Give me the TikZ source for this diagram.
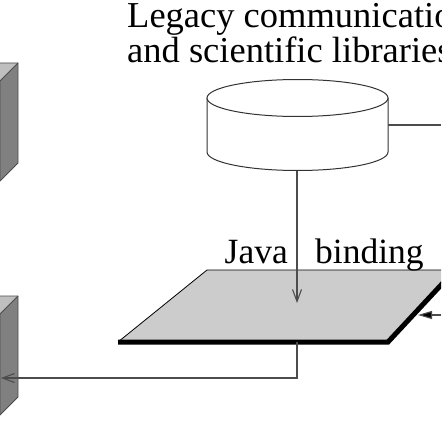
\documentclass[tikz,border=0pt]{standalone}
\usepackage{fontspec}
\setmainfont{Liberation Serif}
\usetikzlibrary{arrows.meta, positioning, shapes.geometric}

\definecolor{platefill}{gray}{0.8}
\definecolor{boxside}{gray}{0.5}
\definecolor{boxtop}{gray}{0.75}
\definecolor{wiregray}{gray}{0.3}

\tikzset{
  caption/.style={font=\fontsize{36.5}{37}\selectfont, inner sep=0pt, anchor=base west},
  platelabel/.style={caption, font=\fontsize{35.5}{36}\selectfont},
  wire/.style={draw=wiregray, line width=1.1pt},
  barb/.style={-{Straight Barb[length=12pt, width=9pt]}},
  boxface/.style={draw=black!70, line width=0.8pt, line join=round},
  drum/.style={draw=black!80, line width=1pt, fill=white}
}

\begin{document}
\begin{tikzpicture}[x=1pt, y=-1pt]
  \useasboundingbox (0,0) rectangle (441,441);
  \clip (0,0) rectangle (441,441);

  % title
  \node[caption] (legacy) at (127,28) {Legacy communication};
  \node[caption] (libs) at (127,63) {and scientific libraries};

  % library store
  \draw[drum] (207,98) -- (207,152) arc[start angle=180, end angle=360, x radius=90.5, y radius=-18.5]
    -- (388,98);
  \draw[drum] (297.5,98) ellipse[x radius=90.5, y radius=18.5];
  \coordinate (lib-bottom) at (297,170.5);
  \coordinate (lib-east) at (388,125);

  % hosts on the left
  \fill[boxside] (0,81) -- (18,63) -- (18,163) -- (0,181) -- cycle;
  \fill[boxtop] (-60,81) -- (-42,63) -- (18,63) -- (0,81) -- cycle;
  \draw[boxface] (-42,63) -- (18,63) -- (18,163) -- (0,181);
  \draw[boxface] (18,63) -- (0,81) -- (0,181);
  \fill[boxside] (0,314) -- (18,296) -- (18,397) -- (0,415) -- cycle;
  \fill[boxtop] (-60,314) -- (-42,296) -- (18,296) -- (0,314) -- cycle;
  \draw[boxface] (-42,296) -- (18,296) -- (18,397) -- (0,415);
  \draw[boxface] (18,296) -- (0,314) -- (0,415);

  % binding plate
  \fill[platefill] (207,270) -- (455,270) -- (388,342) -- (118,342) -- cycle;
  \draw[line width=0.8pt] (455,270) -- (207,270) -- (118,342);
  \draw[line width=5pt] (118,342) -- (388,342) -- (455,270);
  \node[platelabel, anchor=base east] (java) at (288,263) {Java};
  \node[platelabel] (binding) at (315,263) {binding};

  \coordinate (plate-in) at (297,303);
  \coordinate (plate-out) at (297,342);
  \coordinate (plate-right) at (418,315);
  \coordinate (right-net) at (441,315);
  \coordinate (lib-net) at (441,125);
  \coordinate (host-in) at (1,378);

  % connectors
  \draw[wire, barb] (lib-bottom) -- (plate-in);
  \draw[wire] (lib-east) -- (lib-net);
  \draw[wire, barb] (plate-out) |- (host-in);
  \draw[wire, -{Triangle[length=14pt, width=8pt, fill=black]}] (right-net) -- (plate-right);
\end{tikzpicture}
\end{document}
